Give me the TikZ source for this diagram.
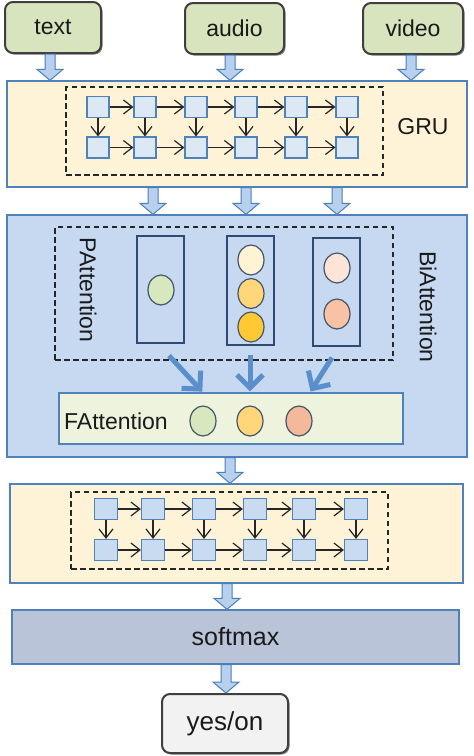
\documentclass[tikz,border=0pt]{standalone}
\usepackage{fontspec}
\setmainfont{Liberation Sans}
\usetikzlibrary{arrows.meta,shadows,calc,shapes.geometric}
\definecolor{inFill}{HTML}{D7E4BD}
\definecolor{inDraw}{HTML}{3F3F3F}
\definecolor{gruFill}{HTML}{FEF3D6}
\definecolor{boxBlue}{HTML}{4F81BD}
\definecolor{biFill}{HTML}{C6D9F0}
\definecolor{fatFill}{HTML}{EDF3DC}
\definecolor{smFill}{HTML}{B9C4D8}
\definecolor{yesFill}{HTML}{F2F2F2}
\definecolor{sqFillA}{HTML}{DDE8F5}
\definecolor{sqFillB}{HTML}{C9DBF1}
\definecolor{baFill}{HTML}{B7D0EE}
\definecolor{baDraw}{HTML}{4A7EBB}
\definecolor{thickBlue}{HTML}{5B8FCB}
\definecolor{circDraw}{HTML}{44546A}
\definecolor{rectDraw}{HTML}{2F4A75}
\definecolor{cGreen}{HTML}{D7E8BE}
\definecolor{cYa}{HTML}{FFF3D6}
\definecolor{cYb}{HTML}{FFD67A}
\definecolor{cYc}{HTML}{FFC933}
\definecolor{cPa}{HTML}{FCE4D6}
\definecolor{cPb}{HTML}{F8C3A4}
\definecolor{cPc}{HTML}{F4B89A}
\definecolor{txt}{HTML}{1A1A1A}
\newcommand\blockarr[2]{%
  \draw[blockarrow] let \p1=(#1), \p2=(#2) in
    (\x1-5pt,\y1) -- (\x1-5pt,\y2+11pt) -- (\x1-13pt,\y2+11pt) -- (\x1,\y2)
    -- (\x1+13pt,\y2+11pt) -- (\x1+5pt,\y2+11pt) -- (\x1+5pt,\y1) -- cycle;}
\begin{document}
\begin{tikzpicture}[x=1pt,y=-1pt,
  every node/.style={inner sep=0pt, text=txt, font=\fontsize{23}{27}\selectfont},
  inbox/.style={draw=inDraw, line width=2pt, fill=inFill, rounded corners=8pt,
    drop shadow={shadow xshift=1.5pt, shadow yshift=-1.5pt, fill=black!70, opacity=0.7}},
  outbox/.style={draw=inDraw, line width=2pt, fill=yesFill, rounded corners=8pt,
    drop shadow={shadow xshift=1.5pt, shadow yshift=-1.5pt, fill=black!70, opacity=0.7}},
  layer/.style={draw=boxBlue, line width=1.3pt},
  dashbox/.style={draw=black!85, dashed, dash pattern=on 5.5pt off 3.5pt, line width=1.3pt},
  sqA/.style={draw=boxBlue, line width=1.2pt, fill=sqFillA, minimum width=22pt, minimum height=21pt},
  sqB/.style={draw=boxBlue, line width=1.2pt, fill=sqFillB, minimum width=23pt, minimum height=21pt},
  sarr/.style={draw=black!85, line width=1.2pt, -{Straight Barb[length=9pt,width=14pt,line width=1.2pt]}},
  blockarrow/.style={fill=baFill, draw=baDraw, line width=1pt},
  thickarr/.style={draw=thickBlue, line width=5pt, -{Straight Barb[length=13pt,width=26pt,line width=5pt]}, shorten >=1pt},
  colrect/.style={draw=rectDraw, line width=1.2pt, minimum width=47pt},
  circ/.style={ellipse, draw=circDraw, line width=1.2pt, minimum width=26pt, minimum height=30pt},
]
\useasboundingbox[fill=white] (0,0) rectangle (474,756);

% input nodes
\node[inbox, minimum width=96pt, minimum height=51pt] (tin) at (53,27.5) {text};
\node[inbox, minimum width=99pt, minimum height=51pt] (ain) at (234.5,28.5) {audio};
\node[inbox, minimum width=100pt, minimum height=51pt] (vin) at (413,28.5) {video};

% GRU layer 1
\node[layer, fill=gruFill, minimum width=460pt, minimum height=106pt] (gru1) at (237,134) {};
\node[dashbox, minimum width=317pt, minimum height=88pt] (d1) at (224.5,131) {};
\node (grulab) at (423,127) {GRU};
\foreach \i/\x in {1/98,2/145,3/196,4/246,5/296,6/347} {
  \node[sqA] (g1t\i) at (\x,107) {};
  \node[sqA] (g1b\i) at (\x,147.5) {};
  \draw[sarr] (g1t\i.south) -- (g1b\i.north);
}
\foreach \i [evaluate=\i as \j using int(\i+1)] in {1,...,5} {
  \draw[sarr] (g1t\i.east) -- (g1t\j.west);
  \draw[sarr] (g1b\i.east) -- (g1b\j.west);
}

% BiAttention layer
\node[layer, fill=biFill, minimum width=460pt, minimum height=242pt] (bi) at (237,336) {};
\node[dashbox, minimum width=338pt, minimum height=133pt] (pd) at (224,293.5) {};
\node[rotate=-90] (plab) at (88,290) {PAttention};
\node[rotate=-90] (bilab) at (428,307) {BiAttention};
\node[colrect, minimum height=107pt] (r1) at (160.5,289.5) {};
\node[colrect, minimum height=109pt] (r2) at (250.5,290.5) {};
\node[colrect, minimum height=108pt] (r3) at (336.5,292) {};
\node[circ, fill=cGreen] (c11) at (161,290) {};
\node[circ, fill=cYa] (c21) at (251,260) {};
\node[circ, fill=cYb] (c22) at (251,293.5) {};
\node[circ, fill=cYc] (c23) at (251,327) {};
\node[circ, fill=cPa] (c31) at (337,268) {};
\node[circ, fill=cPb] (c32) at (337,314) {};

% FAttention
\node[layer, fill=fatFill, minimum width=344pt, minimum height=51pt] (fat) at (231,418.5) {};
\node[anchor=west] (flab) at (64,421) {FAttention};
\node[circ, fill=cGreen] (f1) at (203,421) {};
\node[circ, fill=cYb] (f2) at (250,421) {};
\node[circ, fill=cPc] (f3) at (299,421) {};

\coordinate (ta1) at (169,0 |- pd.south);
\coordinate (ta2) at (250,0 |- pd.south);
\coordinate (ta3) at (332,0 |- pd.south);
\draw[thickarr] ($(ta1)+(0,-5)$) -- (203,0 |- fat.north);
\draw[thickarr] ($(ta2)+(0,-6)$) -- (250,0 |- fat.north);
\draw[thickarr] ($(ta3)+(0,-3)$) -- (310,0 |- fat.north);

% GRU layer 2
\node[layer, fill=gruFill, minimum width=453pt, minimum height=99pt] (gru2) at (236.5,533.5) {};
\node[dashbox, minimum width=317pt, minimum height=77pt] (d2) at (229.5,530.5) {};
\foreach \i/\x in {1/106,2/153,3/204,4/255,5/304,6/356} {
  \node[sqB] (g2t\i) at (\x,509) {};
  \node[sqB] (g2b\i) at (\x,550) {};
  \draw[sarr] (g2t\i.south) -- (g2b\i.north);
}
\foreach \i [evaluate=\i as \j using int(\i+1)] in {1,...,5} {
  \draw[sarr] (g2t\i.east) -- (g2t\j.west);
  \draw[sarr] (g2b\i.east) -- (g2b\j.west);
}

% softmax and output
\node[layer, fill=smFill, minimum width=447pt, minimum height=54pt, font=\fontsize{25}{29}\selectfont] (sm) at (235.5,637) {softmax};
\node[outbox, minimum width=126pt, minimum height=59pt, font=\fontsize{26}{30}\selectfont] (yes) at (225,723.5) {yes/on};

% block arrows
\blockarr{50,0 |- tin.south}{50,0 |- gru1.north}
\blockarr{230,0 |- ain.south}{230,0 |- gru1.north}
\blockarr{411,0 |- vin.south}{411,0 |- gru1.north}
\blockarr{153,0 |- gru1.south}{153,0 |- bi.north}
\blockarr{246,0 |- gru1.south}{246,0 |- bi.north}
\blockarr{337,0 |- gru1.south}{337,0 |- bi.north}
\blockarr{230,0 |- bi.south}{230,0 |- gru2.north}
\blockarr{227,0 |- gru2.south}{227,0 |- sm.north}
\blockarr{226,0 |- sm.south}{226,0 |- yes.north}
\end{tikzpicture}
\end{document}
